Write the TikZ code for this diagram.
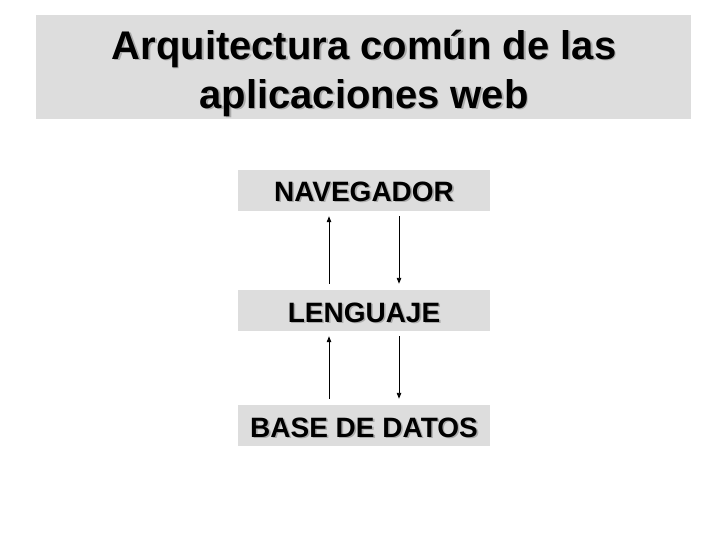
\documentclass[tikz,border=0pt]{standalone}
\usepackage{fontspec}
\setmainfont{Liberation Sans}
\usetikzlibrary{arrows.meta}
\definecolor{boxgray}{HTML}{DDDDDD}
\definecolor{shadgray}{HTML}{ABABAB}
\tikzset{
  titlebox/.style={fill=boxgray, draw=none, minimum width=655pt, minimum height=104pt, inner sep=0pt},
  layerbox/.style={fill=boxgray, draw=none, minimum width=252pt, minimum height=41pt, inner sep=0pt},
  titletxt/.style={font=\bfseries\fontsize{40}{49}\selectfont, align=center, inner sep=0pt},
  layertxt/.style={font=\bfseries\fontsize{28}{32}\selectfont, inner sep=0pt},
  shad/.style={text=shadgray, xshift=1.6pt, yshift=-1.6pt},
  arr/.style={line width=0.9pt, -{Triangle[length=6pt,width=4.5pt]}}
}
\begin{document}
\begin{tikzpicture}[x=1pt,y=-1pt]
\useasboundingbox (0,0) rectangle (728,546);
% title
\node[titlebox] (title) at (363.5,67) {};
\node[titletxt, shad] (titleS) at (364,73) {Arquitectura común de las\\aplicaciones web};
\node[titletxt] (titleT) at (364,73) {Arquitectura común de las\\aplicaciones web};
% boxes
\node[layerbox] (nav) at (364,190.5) {};
\node[layerbox] (len) at (364,310.5) {};
\node[layerbox] (bd) at (364,425.5) {};
\node[layertxt, shad] (navS) at ([yshift=-1pt]nav.center) {NAVEGADOR};
\node[layertxt] (navT) at ([yshift=-1pt]nav.center) {NAVEGADOR};
\node[layertxt, shad] (lenS) at ([yshift=-2pt]len.center) {LENGUAJE};
\node[layertxt] (lenT) at ([yshift=-2pt]len.center) {LENGUAJE};
\node[layertxt, shad] (bdS) at ([yshift=-2pt]bd.center) {BASE DE DATOS};
\node[layertxt] (bdT) at ([yshift=-2pt]bd.center) {BASE DE DATOS};
% arrows
\draw[arr] ([xshift=-35pt,yshift=6pt]len.north) -- ([xshift=-35pt,yshift=-5pt]nav.south);
\draw[arr] ([xshift=35pt,yshift=-5pt]nav.south) -- ([xshift=35pt,yshift=6pt]len.north);
\draw[arr] ([xshift=-35pt,yshift=6pt]bd.north) -- ([xshift=-35pt,yshift=-5pt]len.south);
\draw[arr] ([xshift=35pt,yshift=-5pt]len.south) -- ([xshift=35pt,yshift=6pt]bd.north);
\end{tikzpicture}
\end{document}
